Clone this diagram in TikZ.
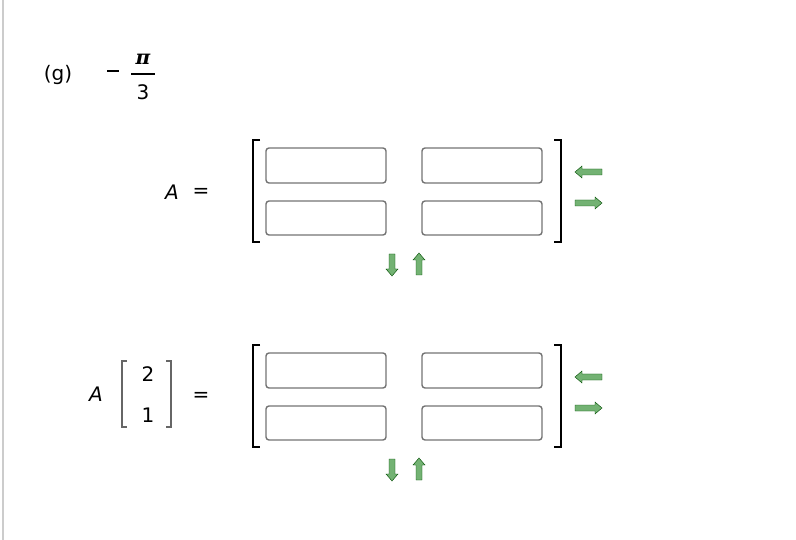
\documentclass[tikz,border=0pt]{standalone}
\usepackage{fontspec}
\setmainfont{DejaVu Sans}
\newfontfamily\piface{DejaVu Serif}
\newcommand{\bigtxt}{\fontsize{20}{22}\selectfont}
\begin{document}
\begin{tikzpicture}[x=1pt,y=-1pt,
  txt/.style={inner sep=0pt,font=\bigtxt},
  ibox/.style={draw=black!55,line width=1.4pt,rounded corners=3pt},
  brk/.style={line width=1.8pt},
  garrow/.style={fill=green!45!black!55,draw=green!30!black,line width=0.4pt}]
\useasboundingbox (0,0) rectangle (796,540);
\draw[black!20,line width=1.5pt] (3,0) -- (3,540);
\node[txt] (g) at (58,75) {\bigtxt (g)};
\draw[line width=1.5pt] (107,71) -- (119,71);
\node[txt] (pi) at (143,59) {\bigtxt\piface\bfseries\itshape π};
\draw[line width=1.5pt] (131,74) -- (155,74);
\node[txt] (three) at (143,92) {\bigtxt 3};
\foreach \dy/\nm in {0/a,205/b}{
  \begin{scope}[yshift=-\dy]
  \draw[brk] (260,140) -- (253,140) -- (253,242) -- (260,242);
  \draw[brk] (554,140) -- (561,140) -- (561,242) -- (554,242);
  \draw[ibox] (266,148) rectangle (386,183);
  \draw[ibox] (422,148) rectangle (542,183);
  \draw[ibox] (266,201) rectangle (386,235);
  \draw[ibox] (422,201) rectangle (542,235);
  \draw[garrow] (575,172) -- (582,166) -- (582,169) -- (602,169) -- (602,175) -- (582,175) -- (582,178) -- cycle;
  \draw[garrow] (602,203) -- (595,197) -- (595,200) -- (575,200) -- (575,206) -- (595,206) -- (595,209) -- cycle;
  \draw[garrow] (392,276) -- (386,269) -- (389,269) -- (389,254) -- (395,254) -- (395,269) -- (398,269) -- cycle;
  \draw[garrow] (419,253) -- (425,260) -- (422,260) -- (422,275) -- (416,275) -- (416,260) -- (413,260) -- cycle;
  \end{scope}}
\node[txt] (A1) at (172,192) {\bigtxt\itshape A};
\node[txt] (eq1) at (201,193) {\bigtxt =};
\node[txt] (A2) at (96,394) {\bigtxt\itshape A};
\draw[black!60,line width=1.5pt] (127,361) -- (122,361) -- (122,427) -- (127,427);
\draw[black!60,line width=1.5pt] (166,361) -- (171,361) -- (171,427) -- (166,427);
\node[txt] (two) at (148,374) {\bigtxt 2};
\node[txt] (one) at (148,415) {\bigtxt 1};
\node[txt] (eq2) at (201,397) {\bigtxt =};
\end{tikzpicture}
\end{document}
